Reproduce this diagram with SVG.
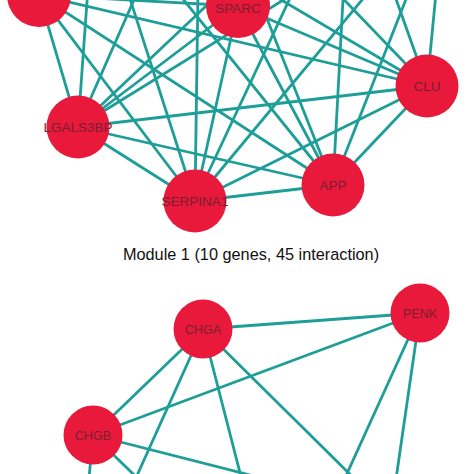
<svg xmlns="http://www.w3.org/2000/svg" width="474" height="474" viewBox="0 0 474 474">
<style>
.e{stroke:#1E9E98;stroke-width:2.8;stroke-linecap:round;fill:none}
.n{fill:#E8193B}
.l{font-family:"Liberation Sans",Arial,sans-serif;font-size:13.5px;fill:#7a1f30;text-anchor:middle}
.s{font-size:12.7px}
.cap{font-family:"Liberation Sans",Arial,sans-serif;font-size:16.3px;fill:#111;text-anchor:middle}
</style>
<rect width="474" height="474" fill="#fff"/>
<g id="connectors">
<line class="e" x1="39" y1="-5" x2="238" y2="6"/>
<line class="e" x1="39" y1="-5" x2="427" y2="86"/>
<line class="e" x1="39" y1="-5" x2="78" y2="127"/>
<line class="e" x1="39" y1="-5" x2="195" y2="201"/>
<line class="e" x1="39" y1="-5" x2="333" y2="185"/>
<line class="e" x1="238" y1="6" x2="427" y2="86"/>
<line class="e" x1="238" y1="6" x2="78" y2="127"/>
<line class="e" x1="238" y1="6" x2="195" y2="201"/>
<line class="e" x1="238" y1="6" x2="333" y2="185"/>
<line class="e" x1="427" y1="86" x2="78" y2="127"/>
<line class="e" x1="427" y1="86" x2="195" y2="201"/>
<line class="e" x1="427" y1="86" x2="333" y2="185"/>
<line class="e" x1="78" y1="127" x2="195" y2="201"/>
<line class="e" x1="78" y1="127" x2="333" y2="185"/>
<line class="e" x1="195" y1="201" x2="333" y2="185"/>
<line class="e" x1="78" y1="127" x2="95" y2="-110"/>
<line class="e" x1="78" y1="127" x2="200" y2="-150"/>
<line class="e" x1="78" y1="127" x2="350" y2="-130"/>
<line class="e" x1="78" y1="127" x2="445" y2="-100"/>
<line class="e" x1="195" y1="201" x2="95" y2="-110"/>
<line class="e" x1="195" y1="201" x2="200" y2="-150"/>
<line class="e" x1="195" y1="201" x2="350" y2="-130"/>
<line class="e" x1="195" y1="201" x2="445" y2="-100"/>
<line class="e" x1="333" y1="185" x2="95" y2="-110"/>
<line class="e" x1="333" y1="185" x2="200" y2="-150"/>
<line class="e" x1="333" y1="185" x2="350" y2="-130"/>
<line class="e" x1="333" y1="185" x2="445" y2="-100"/>
<line class="e" x1="427" y1="86" x2="95" y2="-110"/>
<line class="e" x1="427" y1="86" x2="200" y2="-150"/>
<line class="e" x1="427" y1="86" x2="350" y2="-130"/>
<line class="e" x1="427" y1="86" x2="445" y2="-100"/>
<line class="e" x1="203" y1="329" x2="420" y2="313"/>
<line class="e" x1="93" y1="435" x2="420" y2="313"/>
<line class="e" x1="203" y1="329" x2="93" y2="435"/>
<line class="e" x1="203" y1="329" x2="126" y2="500"/>
<line class="e" x1="203" y1="329" x2="247" y2="500"/>
<line class="e" x1="203" y1="329" x2="376" y2="500"/>
<line class="e" x1="93" y1="435" x2="348" y2="500"/>
<line class="e" x1="93" y1="435" x2="87" y2="500"/>
<line class="e" x1="93" y1="435" x2="160" y2="500"/>
<line class="e" x1="420" y1="313" x2="335" y2="500"/>
<line class="e" x1="420" y1="313" x2="393" y2="500"/>
</g>
<g id="node-top-left"><circle class="n" cx="39" cy="-5" r="32"/></g>
<g id="node-SPARC"><circle class="n" cx="238" cy="6" r="32"/><text class="l" x="238" y="13">SPARC</text></g>
<g id="node-CLU"><circle class="n" cx="427" cy="86" r="31.5"/><text class="l" x="427" y="91">CLU</text></g>
<g id="node-LGALS3BP"><circle class="n" cx="78" cy="127" r="31.5"/><text class="l" x="78" y="132">LGALS3BP</text></g>
<g id="node-SERPINA1"><circle class="n" cx="195" cy="201" r="31.5"/><text class="l" x="195" y="206">SERPINA1</text></g>
<g id="node-APP"><circle class="n" cx="333" cy="185" r="31.5"/><text class="l" x="333" y="190">APP</text></g>
<text class="cap" x="251" y="260">Module 1 (10 genes, 45 interaction)</text>
<g id="node-CHGA"><circle class="n" cx="203" cy="329" r="29.5"/><text class="l s" x="203" y="334">CHGA</text></g>
<g id="node-PENK"><circle class="n" cx="420" cy="313" r="29.5"/><text class="l s" x="420" y="318">PENK</text></g>
<g id="node-CHGB"><circle class="n" cx="93" cy="435" r="29.5"/><text class="l s" x="93" y="440">CHGB</text></g>
</svg>
